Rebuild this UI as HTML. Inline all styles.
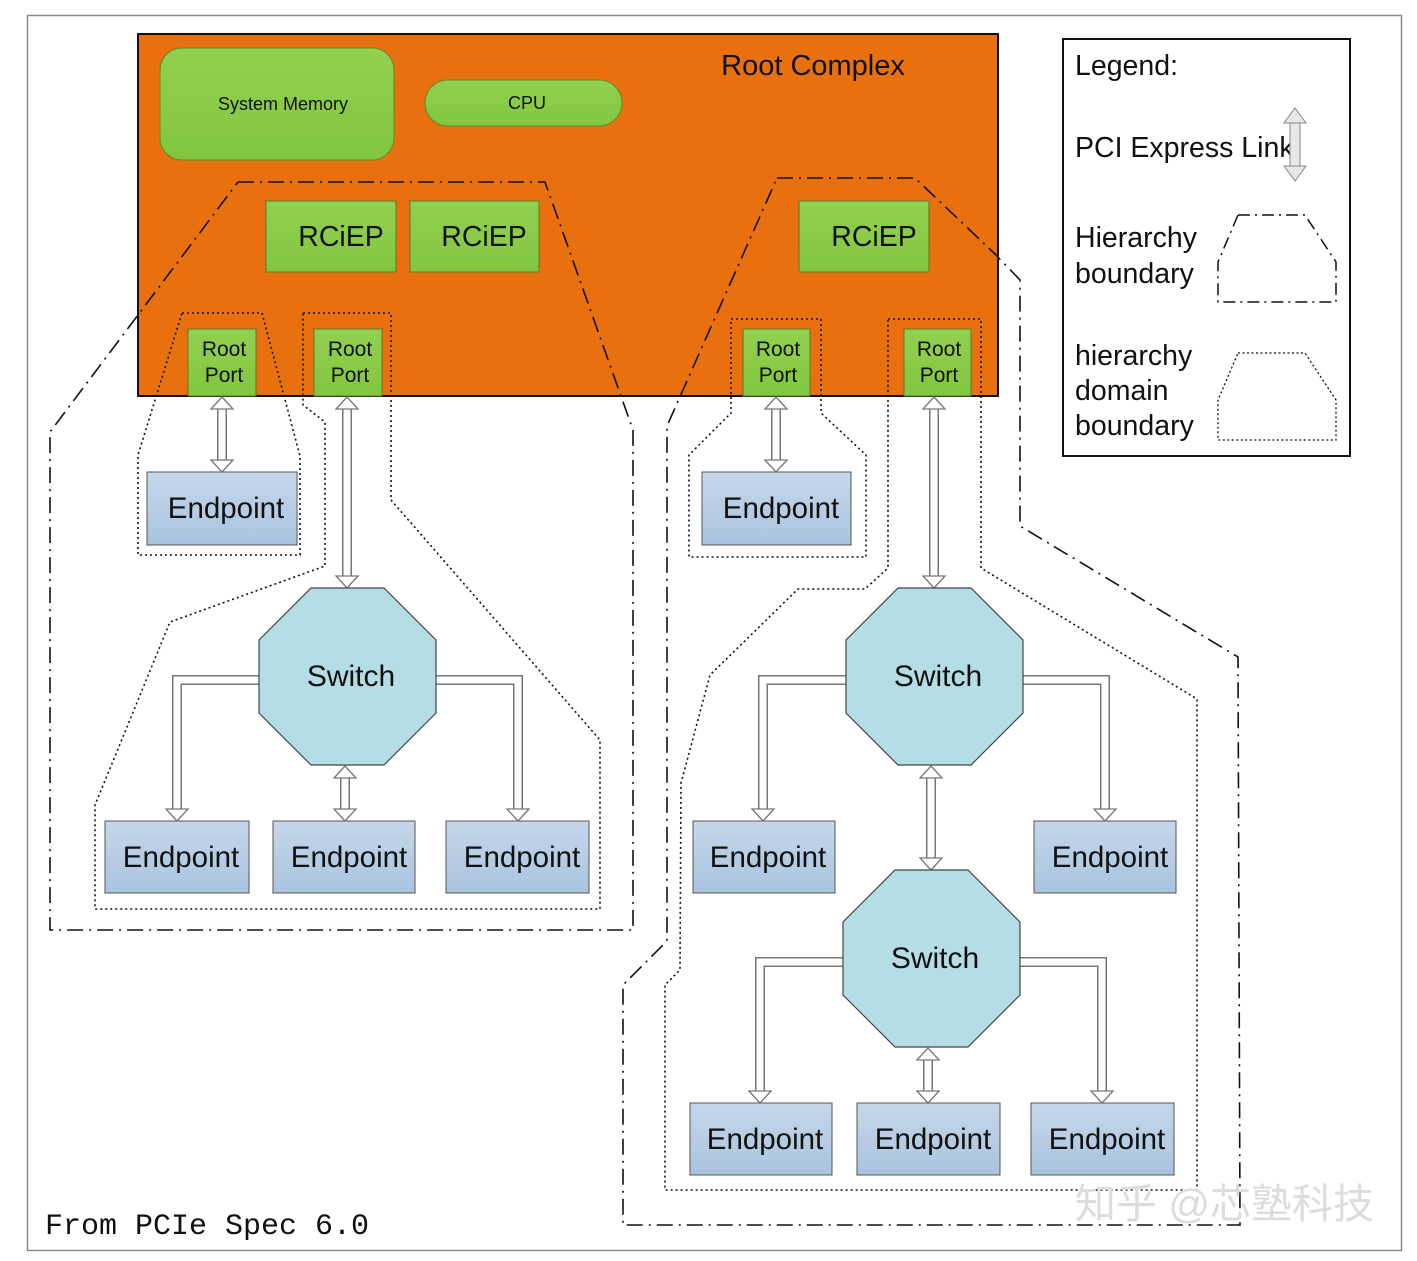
<!DOCTYPE html>
<html><head><meta charset="utf-8"><style>
html,body{margin:0;padding:0;background:#fff;}
svg{display:block;}
text{font-family:"Liberation Sans",sans-serif;fill:#111;}
</style></head><body>
<svg width="1417" height="1261" viewBox="0 0 1417 1261" xmlns="http://www.w3.org/2000/svg">
<defs>
<linearGradient id="gG" x1="0" y1="0" x2="0" y2="1"><stop offset="0" stop-color="#92d050"/><stop offset="1" stop-color="#82c640"/></linearGradient>
<linearGradient id="bG" x1="0" y1="0" x2="0" y2="1"><stop offset="0" stop-color="#c6d7ea"/><stop offset="1" stop-color="#a9c3df"/></linearGradient>
</defs>
<rect x="27.5" y="15.5" width="1374" height="1235" fill="#fff" stroke="#888" stroke-width="1.5"/>
<rect x="138" y="34" width="860" height="362" fill="#e8700f" stroke="#111" stroke-width="2"/>
<rect x="160" y="48" width="234" height="112" rx="22" fill="url(#gG)" stroke="#5a8a2a"/>
<text x="283" y="110" font-size="18" text-anchor="middle">System Memory</text>
<rect x="425" y="80" width="197" height="46" rx="23" fill="url(#gG)" stroke="#5a8a2a"/>
<text x="527" y="109" font-size="18" text-anchor="middle">CPU</text>
<text x="813" y="75" font-size="29" text-anchor="middle">Root Complex</text>
<g fill="url(#gG)" stroke="#5a7a2a">
<rect x="266" y="201" width="130" height="71"/><rect x="410" y="201" width="129" height="71"/><rect x="799" y="201" width="130" height="71"/>
<rect x="188" y="329" width="68" height="67"/><rect x="314" y="329" width="68" height="67"/><rect x="743" y="329" width="67" height="67"/><rect x="904" y="329" width="67" height="67"/>
</g>
<g font-size="28.5" text-anchor="middle"><text x="341" y="246">RCiEP</text><text x="484" y="246">RCiEP</text><text x="874" y="246">RCiEP</text></g>
<g font-size="21" text-anchor="middle">
<text x="224" y="356">Root</text><text x="224" y="382">Port</text>
<text x="350" y="356">Root</text><text x="350" y="382">Port</text>
<text x="778" y="356">Root</text><text x="778" y="382">Port</text>
<text x="939" y="356">Root</text><text x="939" y="382">Port</text>
</g>
<g fill="none" stroke="#111" stroke-width="1.6" stroke-dasharray="16,6,2,6">
<polyline points="238,182 545,182 633,430 633,930 50,930 50,432 238,182"/>
<polyline points="777,178 915,178 995,254 1020,280 1020,526 1238,657 1240,1225 623,1225 623,985 663,945 667,940 667,426 777,178"/>
</g>
<g fill="none" stroke="#111" stroke-width="1.6" stroke-dasharray="2,3">
<polyline points="182,313 262,313 300,456 300,555 138,555 138,455 182,313"/>
<polyline points="303,313 391,313 391,500 600,740 600,909 95,909 95,805 170,622 325,566 325,422 303,405 303,313"/>
<polyline points="731,319 821,319 821,413 866,455 866,557 689,557 689,455 731,413 731,319"/>
<polyline points="888,319 981,319 981,568 1197,699 1197,1190 665,1190 665,985 680,970 681,783 710,675 798,589 865,589 888,568 888,319"/>
</g>
<g fill="url(#bG)" stroke="#555">
<rect x="147" y="472" width="150" height="73"/><rect x="702" y="472" width="149" height="73"/>
<rect x="105" y="821" width="144" height="72"/><rect x="273" y="821" width="142" height="72"/><rect x="446" y="821" width="143" height="72"/>
<rect x="693" y="821" width="142" height="72"/><rect x="1034" y="821" width="142" height="72"/>
<rect x="690" y="1103" width="142" height="72"/><rect x="857" y="1103" width="143" height="72"/><rect x="1031" y="1103" width="143" height="72"/>
</g>
<g font-size="29.5" text-anchor="middle">
<text x="226" y="518">Endpoint</text><text x="781" y="518">Endpoint</text>
<text x="181" y="867">Endpoint</text><text x="349" y="867">Endpoint</text><text x="522" y="867">Endpoint</text>
<text x="768" y="867">Endpoint</text><text x="1110" y="867">Endpoint</text>
<text x="765" y="1149">Endpoint</text><text x="933" y="1149">Endpoint</text><text x="1107" y="1149">Endpoint</text>
</g>
<g fill="none" stroke-linejoin="miter">
<g stroke="#777" stroke-width="10">
<path d="M222,405V462M347,405V578M776,405V462M934,405V578M345,774V811M931,774V860M928,1056V1093"/>
<path d="M259,680H177V811M436,680H518V811M846,680H763V811M1023,680H1105V811M843,962H760V1093M1020,962H1102V1093"/>
</g>
<g stroke="#fff" stroke-width="7">
<path d="M222,405V462M347,405V578M776,405V462M934,405V578M345,774V811M931,774V860M928,1056V1093"/>
<path d="M259,680H177V811M436,680H518V811M846,680H763V811M1023,680H1105V811M843,962H760V1093M1020,962H1102V1093"/>
</g>
</g>
<g fill="#fff" stroke="#777" stroke-width="1.3">
<path d="M211,460H233L222,472Z M336,576H358L347,588Z M765,460H787L776,472Z M923,576H945L934,588Z M334,809H356L345,821Z M920,858H942L931,870Z M917,1091H939L928,1103Z"/>
<path d="M166,809H188L177,821Z M507,809H529L518,821Z M752,809H774L763,821Z M1094,809H1116L1105,821Z M749,1091H771L760,1103Z M1091,1091H1113L1102,1103Z"/>
<path d="M211,409H233L222,397Z M336,409H358L347,397Z M765,409H787L776,397Z M923,409H945L934,397Z M334,778H356L345,766Z M920,778H942L931,766Z M917,1060H939L928,1048Z"/>
</g>
<g fill="#b4dde6" stroke="#444" stroke-width="1.2">
<polygon points="311,588 384,588 436,640 436,713 384,765 311,765 259,713 259,640"/>
<polygon points="898,588 971,588 1023,640 1023,713 971,765 898,765 846,713 846,640"/>
<polygon points="895,870 968,870 1020,922 1020,995 968,1047 895,1047 843,995 843,922"/>
</g>
<g font-size="30" text-anchor="middle"><text x="351" y="686">Switch</text><text x="938" y="686">Switch</text><text x="935" y="968">Switch</text></g>
<rect x="1063" y="39" width="287" height="417" fill="#fff" stroke="#111" stroke-width="2"/>
<g font-size="28.5"><text x="1075" y="75">Legend:</text><text x="1075" y="157">PCI Express Link</text>
<text x="1075" y="247">Hierarchy</text><text x="1075" y="283">boundary</text>
<text x="1075" y="365">hierarchy</text><text x="1075" y="400">domain</text><text x="1075" y="435">boundary</text></g>
<rect x="1290" y="121" width="10" height="47" fill="#e8e8e8" stroke="#888"/>
<path d="M1284,123H1306L1295,108Z M1284,166H1306L1295,181Z" fill="#e8e8e8" stroke="#888"/>
<polyline points="1238,215 1305,215 1336,262 1336,302 1218,302 1218,262 1238,215" fill="none" stroke="#111" stroke-width="1.5" stroke-dasharray="12,5,2,5"/>
<polyline points="1238,353 1305,353 1336,400 1336,440 1218,440 1218,400 1238,353" fill="none" stroke="#111" stroke-width="1.3" stroke-dasharray="2,2.5"/>
<text x="45" y="1234" font-size="30" style="font-family:'Liberation Mono',monospace">From PCIe Spec 6.0</text>
<text x="1075" y="1218" font-size="41" style="font-family:'Liberation Sans','Noto Sans CJK SC',sans-serif;fill:#dcdcdc">知乎 @芯塾科技</text>
</svg>
</body></html>
